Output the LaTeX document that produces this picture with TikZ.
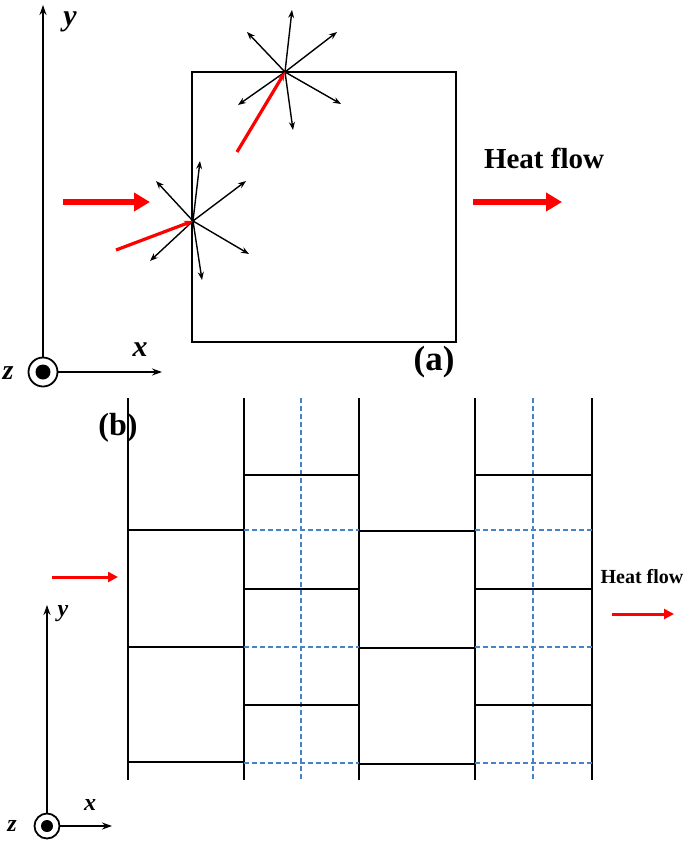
\documentclass[tikz,border=0pt]{standalone}
\usepackage{fontspec}
\setmainfont{Liberation Serif}
\usetikzlibrary{arrows.meta}
\definecolor{dblue}{RGB}{70,130,200}
\begin{document}
\begin{tikzpicture}[x=1pt,y=-1pt,
 ax/.style={line width=1.8pt,-{Stealth[length=10pt,width=7pt]}},
 ray/.style={line width=1.4pt,-{Stealth[length=8pt,width=6pt]}},
 redray/.style={red,line width=3.2pt,-{Stealth[length=9pt,width=7pt]}},
 big/.style={red,line width=5.5pt,-{Triangle[length=16pt,width=18pt]}},
 med/.style={red,line width=3pt,-{Triangle[length=10pt,width=10pt]}},
 wall/.style={line width=2.2pt},
 dsh/.style={dblue,dash pattern=on 5pt off 3pt,line width=1.2pt}]
\useasboundingbox (0,0) rectangle (700,846);
% (a)
\node[circle,draw,line width=1.8pt,minimum size=29pt,inner sep=0] (o1) at (43,372) {};
\fill (43,372) circle (7.5);
\coordinate (y1) at (43,5); \coordinate (x1) at (162,372);
\draw[ax] (o1.north) -- (y1);
\draw[ax] (o1.east) -- (x1);
\node[font=\bfseries\itshape\fontsize{30}{30}\selectfont] (ly) at (70,22) {y};
\node[font=\bfseries\itshape\fontsize{30}{30}\selectfont] (lx) at (140,350) {x};
\node[font=\bfseries\itshape\fontsize{28}{28}\selectfont] (lz) at (8,373) {z};
\draw[line width=2.5pt] (192,72) rectangle (456,342);
\coordinate (c1) at (285,72);
\foreach \p in {(292,10),(247,32),(337,32),(238,105),(341,104),(293,130)} \draw[ray] (c1) -- \p;
\coordinate (r1) at (237,152); \draw[redray] (r1) -- (c1);
\coordinate (c2) at (193,221);
\foreach \p in {(200,161),(156,181),(246,181),(150,261),(249,254),(202,280)} \draw[ray] (c2) -- \p;
\coordinate (r2) at (116,250); \draw[redray] (r2) -- (c2);
\coordinate (a1) at (63,202); \coordinate (a2) at (150,202);
\draw[big] (a1) -- (a2);
\coordinate (a3) at (473,202); \coordinate (a4) at (562,202);
\draw[big] (a3) -- (a4);
\node[font=\bfseries\fontsize{29}{29}\selectfont] (hf1) at (544,158) {Heat flow};
\node[font=\bfseries\fontsize{35}{35}\selectfont] (la) at (434,362) {(a)};
% (b)
\foreach \x in {128,244,359,475,592} \draw[wall] (\x,398) -- (\x,780);
\foreach \x in {301,533} \draw[dsh] (\x,398) -- (\x,780);
\foreach \y in {530,647,762} \draw[wall] (128,\y) -- (244,\y);
\foreach \y in {475,589,705} {\draw[wall] (244,\y) -- (359,\y); \draw[wall] (475,\y) -- (592,\y);}
\foreach \y in {530,647,763} {\draw[dsh] (244,\y) -- (359,\y); \draw[dsh] (475,\y) -- (592,\y);}
\foreach \y in {531,648,764} \draw[wall] (359,\y) -- (475,\y);
\node[font=\bfseries\fontsize{32}{32}\selectfont] (lb) at (118,428) {(b)};
\coordinate (b1) at (52,577); \coordinate (b2) at (118,577);
\draw[med] (b1) -- (b2);
\coordinate (b3) at (612,614); \coordinate (b4) at (674,614);
\draw[med] (b3) -- (b4);
\node[font=\bfseries\fontsize{20}{20}\selectfont] (hf2) at (642,577) {Heat flow};
\node[circle,draw,line width=1.8pt,minimum size=25pt,inner sep=0] (o2) at (47,826) {};
\fill (47,826) circle (6);
\coordinate (y2) at (47,605); \coordinate (x2) at (112,826);
\draw[ax] (o2.north) -- (y2);
\draw[ax] (o2.east) -- (x2);
\node[font=\bfseries\itshape\fontsize{24}{24}\selectfont] (ly2) at (63,614) {y};
\node[font=\bfseries\itshape\fontsize{24}{24}\selectfont] (lx2) at (90,805) {x};
\node[font=\bfseries\itshape\fontsize{24}{24}\selectfont] (lz2) at (12,826) {z};
\end{tikzpicture}
\end{document}
